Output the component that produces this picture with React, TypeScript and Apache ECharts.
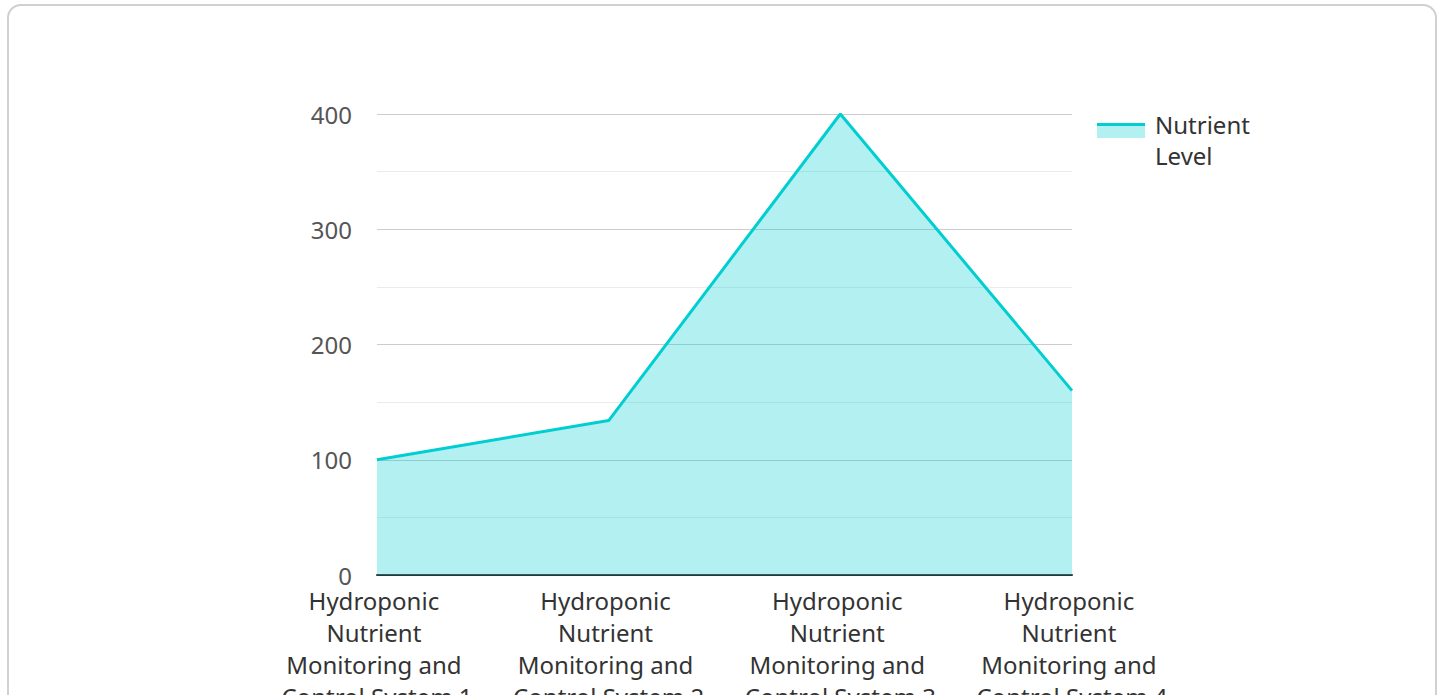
import React, { useEffect, useRef } from "react";
import * as echarts from "echarts";

const categories = [
  "Hydroponic Nutrient Monitoring and Control System 1",
  "Hydroponic Nutrient Monitoring and Control System 2",
  "Hydroponic Nutrient Monitoring and Control System 3",
  "Hydroponic Nutrient Monitoring and Control System 4",
];
const nutrientLevel = [100, 134, 400, 160];
const seriesName = "Nutrient Level";

const LINE = "#00CED1";
const AREA = "rgba(0,206,209,0.3)";
const FONT = "'Noto Sans', 'Open Sans', sans-serif";

export default function App() {
  const ref = useRef<HTMLDivElement>(null);
  useEffect(() => {
    if (!ref.current) return;
    const chart = echarts.init(ref.current, null, { renderer: "svg" });
    chart.setOption({
      animation: false,
      textStyle: { fontFamily: FONT },
      grid: {
        left: 377,
        right: 372,
        top: 114,
        bottom: 120,
        containLabel: false,
        outerBoundsMode: "none",
      },
      legend: {
        data: [seriesName],
        left: 1097,
        top: 109,
        padding: 0,
        itemWidth: 48,
        itemHeight: 14,
        itemGap: 10,
        icon: "rect",
        itemStyle: { opacity: 0 },
        lineStyle: { opacity: 0 },
        formatter: (n: string) => n.replace(" ", "\n"),
        textStyle: { fontSize: 24, color: "#333", lineHeight: 31, fontFamily: FONT, padding: [0, 0, 0, 5] },
      },
      graphic: [
        { type: "rect", left: 1097, top: 125, shape: { width: 48, height: 13 }, style: { fill: AREA } },
        { type: "rect", left: 1097, top: 123, shape: { width: 48, height: 3 }, style: { fill: LINE } },
      ],
      xAxis: {
        type: "category",
        data: categories,
        boundaryGap: false,
        axisLine: { lineStyle: { color: "#333", width: 2 } },
        axisTick: { show: false },
        axisLabel: {
          fontSize: 24,
          color: "#333",
          width: 205,
          overflow: "break",
          lineHeight: 32,
          margin: 9,
          interval: 0,
          fontFamily: FONT,
        },
      },
      yAxis: {
        type: "value",
        min: 0,
        max: 400,
        interval: 100,
        axisLine: { show: false },
        axisTick: { show: false },
        axisLabel: { fontSize: 24, color: "#555", margin: 25, fontFamily: FONT },
        splitLine: { lineStyle: { color: "#ccc", width: 1 } },
        minorTick: { show: false, splitNumber: 2 },
        minorSplitLine: { show: true, lineStyle: { color: "#ebebeb", width: 1 } },
      },
      series: [
        {
          name: seriesName,
          type: "line",
          data: nutrientLevel,
          symbol: "none",
          lineStyle: { color: LINE, width: 3 },
          itemStyle: { color: LINE },
          areaStyle: { color: LINE, opacity: 0.3 },
        },
      ],
    });
    return () => chart.dispose();
  }, []);
  return (
    <div style={{ position: "absolute", left: 0, top: 0, width: 1444, height: 695, overflow: "hidden" }}>
      <div
        style={{
          position: "absolute",
          left: 7,
          top: 4,
          width: 1426,
          height: 760,
          border: "2px solid #d0d0d0",
          borderRadius: 14,
          boxSizing: "content-box",
        }}
      />
      <div ref={ref} style={{ position: "absolute", left: 0, top: 0, width: 1444, height: 695 }} />
    </div>
  );
}
